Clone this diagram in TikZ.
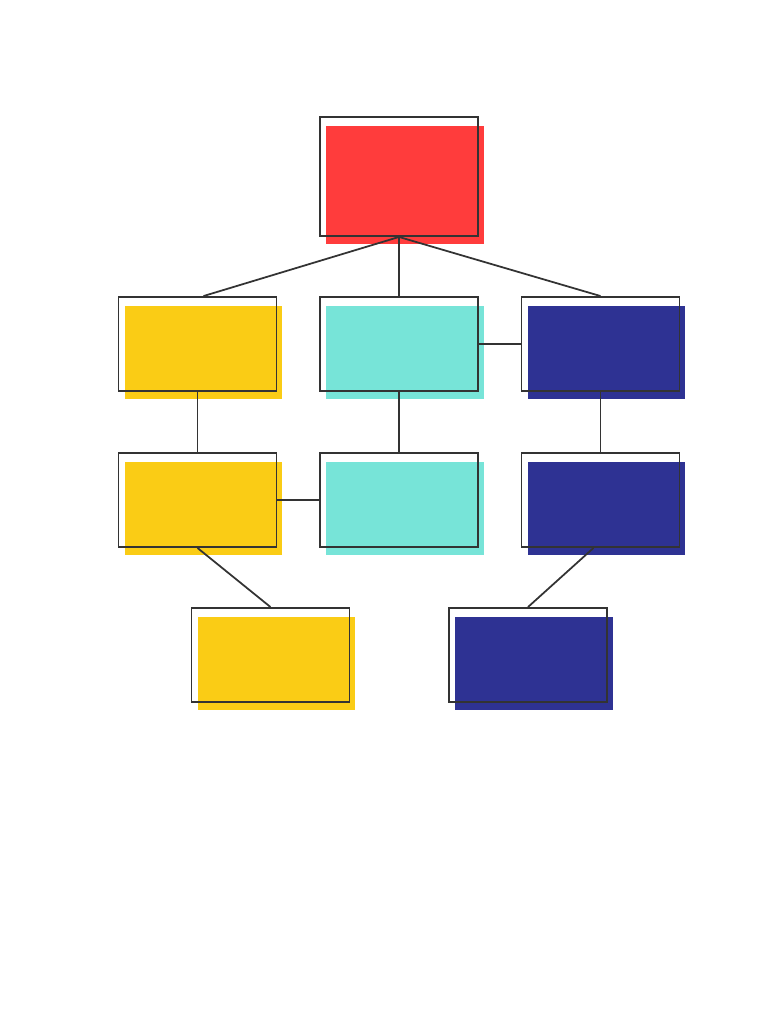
\documentclass[tikz,border=0pt]{standalone}
\usepackage{tikz}
\usetikzlibrary{shadows}

\definecolor{boxred}{HTML}{FF3C3C}
\definecolor{boxyellow}{HTML}{FACC15}
\definecolor{boxteal}{HTML}{77E4D8}
\definecolor{boxnavy}{HTML}{2E3293}
\definecolor{inkgray}{HTML}{333333}

\tikzset{
	card/.style={draw=inkgray, line width=1.1pt, minimum width=3.16cm, minimum height=1.88cm, inner sep=0pt,
		drop shadow={shadow xshift=0.12cm, shadow yshift=-0.17cm, fill=#1, opacity=1}},
	link/.style={draw=inkgray, line width=1pt}
}

\begin{document}
\begin{tikzpicture}[x=0.02cm, y=-0.02cm]
	\useasboundingbox (0, 0) rectangle (768, 1024);

	\node[card=boxred, minimum height=2.38cm] (root) at (399, 176.5) {};

	\node[card=boxyellow] (y1) at (197.5, 344) {};
	\node[card=boxteal] (t1) at (399, 344) {};
	\node[card=boxnavy] (n1) at (600.5, 344) {};

	\node[card=boxyellow] (y2) at (197.5, 500) {};
	\node[card=boxteal] (t2) at (399, 500) {};
	\node[card=boxnavy] (n2) at (600.5, 500) {};

	\node[card=boxyellow] (y3) at (270.5, 655) {};
	\node[card=boxnavy] (n3) at (528, 655) {};

	\draw[link] (root.south) -- ([xshift=0.12cm]y1.north);
	\draw[link] (root.south) -- (t1.north);
	\draw[link] (root.south) -- (n1.north);
	\draw[link] (t1.east) -- (n1.west);

	\draw[link] (y1.south) -- (y2.north);
	\draw[link] (t1.south) -- (t2.north);
	\draw[link] (n1.south) -- (n2.north);
	\draw[link] (y2.east) -- (t2.west);

	\draw[link] (y2.south) -- (y3.north);
	\draw[link] ([xshift=-0.14cm]n2.south) -- (n3.north);
\end{tikzpicture}
\end{document}
